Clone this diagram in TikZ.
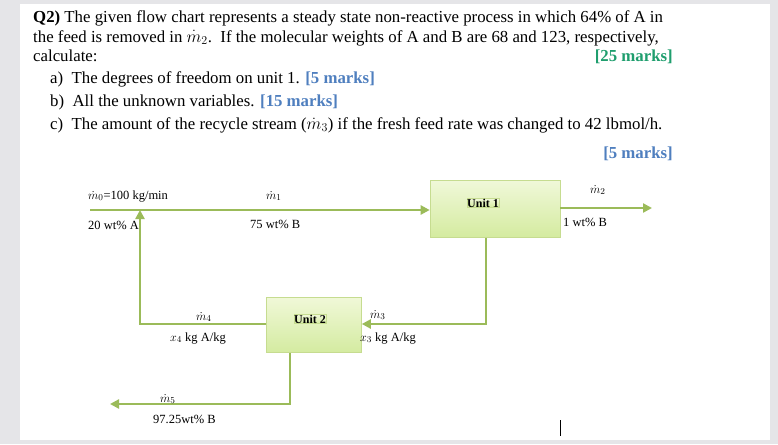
\documentclass[tikz,border=0pt]{standalone}
\usepackage{fontspec}
\setmainfont{Liberation Serif}
\usetikzlibrary{arrows.meta}
\definecolor{flow}{HTML}{9BBB59}
\definecolor{bxa}{HTML}{F0F8D8}
\definecolor{bxb}{HTML}{D4EBA0}
\definecolor{bxd}{HTML}{C6DC90}
\definecolor{mk}{HTML}{1F9E6E}
\definecolor{mb}{HTML}{4F7FBF}
\begin{document}
\begin{tikzpicture}[x=1pt,y=-1pt,
  q/.style={anchor=base west,inner sep=0pt,font=\fontsize{16.8}{18}\selectfont},
  lab/.style={anchor=base west,inner sep=0pt,font=\fontsize{12.5}{14}\selectfont},
  unit/.style={draw=bxd,top color=bxa,bottom color=bxb,line width=0.6pt,font=\bfseries\fontsize{12}{14}\selectfont,inner sep=0pt},
  fl/.style={draw=flow,line width=2.6pt},
  fla/.style={fl,-{Triangle[length=9pt,width=9pt]}}]
\useasboundingbox (0,0) rectangle (778,444);
\fill[white!90!blue!40!gray!30] (0,0) rectangle (778,444);
\fill[white] (20,4) rectangle (770,440);
\node[q] (t1) at (33,23) {\textbf{Q2)} The given flow chart represents a steady state non-reactive process in which 64\% of A in};
\node[q] (t2) at (33,42) {the feed is removed in $\dot m_2$.\ \ If the molecular weights of A and B are 68 and 123, respectively,};
\node[q] (t3) at (33,61) {calculate:};
\node[q,anchor=base east,text=mk] (m25) at (673,61) {\textbf{[25 marks]}};
\node[q] (a) at (50,83) {a)\ \ The degrees of freedom on unit 1. \textcolor{mb}{\textbf{[5 marks]}}};
\node[q] (b) at (50,106) {b)\ \ All the unknown variables. \textcolor{mb}{\textbf{[15 marks]}}};
\node[q] (c) at (50,129) {c)\ \ The amount of the recycle stream ($\dot m_3$) if the fresh feed rate was changed to 42 lbmol/h.};
\node[q,anchor=base east,text=mb] (m5) at (673,158) {\textbf{[5 marks]}};
% units
\node[unit,minimum width=130pt,minimum height=57pt] (u1) at (495,209) {};
\node[unit] at (483,203) {Unit 1};
\node[unit,minimum width=95pt,minimum height=55pt] (u2) at (314,325) {};
\node[unit] at (310,319) {Unit 2};
% coordinates
\coordinate (s0) at (90,210);
\coordinate (j) at (140,210);
\coordinate (o2) at (652,208);
\coordinate (c1) at (486,324);
\coordinate (c2) at (140,324);
\coordinate (c3) at (290,404);
\coordinate (o5) at (110,404);
\draw[fla] (s0) -- (u1.west|-s0);
\draw[fla] (u1.east|-o2) -- (o2);
\draw[fla] (u1.south-|c1) -- (c1) -- (u2.east|-c1);
\draw[fla] (u2.west|-c2) -- (c2) -- (j);
\draw[fla] (u2.south-|c3) -- (c3) -- (o5);
% labels
\node[lab] (l0) at (88,199) {$\dot m_0$=100 kg/min};
\node[lab] (l0b) at (88,229) {20 wt\% A};
\node[lab] (l1) at (266,199) {$\dot m_1$};
\node[lab] (l1b) at (250,228) {75 wt\% B};
\node[lab] (l2) at (590,193) {$\dot m_2$};
\node[lab] (l2b) at (563,226) {1 wt\% B};
\node[lab] (l4) at (196,320) {$\dot m_4$};
\node[lab] (l4b) at (170,341) {$x_4$ kg A/kg};
\node[lab] (l3) at (370,318) {$\dot m_3$};
\node[lab] (l3b) at (360,341) {$x_3$ kg A/kg};
\node[lab] (l5) at (160,402) {$\dot m_5$};
\node[lab] (l5b) at (153,423) {97.25wt\% B};
\draw[line width=0.8pt] (560,420) -- (560,436);
\end{tikzpicture}
\end{document}
